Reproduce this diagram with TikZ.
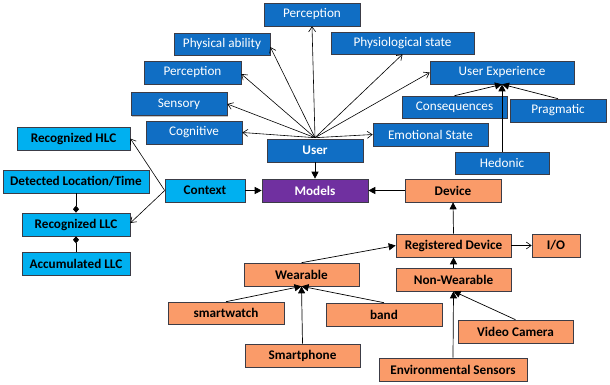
\documentclass[tikz,border=0pt]{standalone}
\usepackage{fontspec}
\setmainfont{Carlito}
\usetikzlibrary{arrows.meta,shadows}
\definecolor{dblue}{RGB}{16,110,196}
\definecolor{lblue}{RGB}{0,176,240}
\definecolor{purp}{RGB}{112,48,160}
\definecolor{orng}{RGB}{250,155,105}
\definecolor{edge}{RGB}{60,60,70}
\newcommand{\bxfont}{\fontsize{13.2}{15}\selectfont}
\begin{document}
\begin{tikzpicture}[x=1pt,y=-1pt,
  box/.style={draw=edge,line width=0.6pt,inner sep=0pt,minimum height=23pt,
    font=\bxfont,
    drop shadow={shadow xshift=1.2pt,shadow yshift=-1.2pt,opacity=0.45}},
  ublue/.style={box,fill=dblue,text=white},
  cblue/.style={box,fill=lblue,text=black,font=\bxfont\bfseries},
  mpurp/.style={box,fill=purp,text=white,font=\bxfont\bfseries},
  dor/.style={box,fill=orng,text=black,font=\bxfont\bfseries},
  open/.style={draw=black,line width=0.6pt,-{Straight Barb[length=5pt,width=7pt]}},
  filled/.style={draw=black,line width=0.7pt,-{Triangle[length=7pt,width=7pt]}},
  dia/.style={draw=black,line width=0.7pt,-{Diamond[length=7pt,width=6pt]}}]
\useasboundingbox (0,0) rectangle (610,385);
\fill[white] (0,0) rectangle (610,385);
% user branch
\node[ublue,minimum width=96pt] (perc1) at (312,14.5) {Perception};
\node[ublue,minimum width=96pt,minimum height=22pt] (phys) at (222,44) {Physical ability};
\node[ublue,minimum width=97pt] (perc2) at (192.5,72.5) {Perception};
\node[ublue,minimum width=96pt] (sens) at (179,104) {Sensory};
\node[ublue,minimum width=96pt] (cogn) at (194,132.5) {Cognitive};
\node[ublue,minimum width=143pt,minimum height=22pt] (physio) at (402.5,43) {Physiological state};
\node[ublue,minimum width=144pt] (ux) at (502,72.5) {User Experience};
\node[ublue,minimum width=105pt,minimum height=22pt] (cons) at (454.5,107) {Consequences};
\node[ublue,minimum width=96pt] (prag) at (558,110.5) {Pragmatic};
\node[ublue,minimum width=115pt] (emo) at (430.5,134.5) {Emotional State};
\node[ublue,minimum width=94pt,minimum height=22pt] (hed) at (502,163) {Hedonic};
\node[ublue,minimum width=96pt,font=\bxfont\bfseries] (user) at (315,150.5) {User};
% context branch
\node[cblue,minimum width=113pt] (hlc) at (73.5,138.5) {Recognized HLC};
\node[cblue,minimum width=146pt] (dlt) at (76,181.5) {Detected Location/Time};
\node[cblue,minimum width=108pt] (llc) at (76,224.5) {Recognized LLC};
\node[cblue,minimum width=108pt] (acc) at (76,263.5) {Accumulated LLC};
\node[cblue,minimum width=80pt] (ctx) at (205,190.5) {Context};
% models
\node[mpurp,minimum width=106pt] (models) at (315,190.5) {Models};
% device branch
\node[dor,minimum width=96pt] (dev) at (453,190.5) {Device};
\node[dor,minimum width=115pt] (reg) at (453.5,245.5) {Registered Device};
\node[dor,minimum width=48pt] (io) at (556,245.5) {I/O};
\node[dor,minimum width=115pt] (nonw) at (453.5,279.5) {Non-Wearable};
\node[dor,minimum width=115pt] (wear) at (301.5,274.5) {Wearable};
\node[dor,minimum width=116pt,minimum height=22pt] (sw) at (226,313) {smartwatch};
\node[dor,minimum width=116pt] (band) at (384,314.5) {band};
\node[dor,minimum width=115pt] (sp) at (302.5,355.5) {Smartphone};
\node[dor,minimum width=115pt] (vid) at (515.5,331.5) {Video Camera};
\node[dor,minimum width=148pt] (env) at (453,369.5) {Environmental Sensors};
% user arrows
\coordinate (uo) at ([yshift=1pt]user.north);
\draw[open] (uo) -- (perc1.south);
\draw[open] (uo) -- ([yshift=-3pt]phys.east);
\draw[open] (uo) -- ([yshift=-1.5pt]perc2.east);
\draw[open] (uo) -- (sens.east);
\draw[open] (uo) -- (cogn.east);
\draw[open] (uo) -- (physio.south);
\draw[open] (uo) -- (ux.west);
\draw[open] (uo) -- (emo.west);
\draw[filled] (cons.north) -- (ux.south);
\draw[filled] (prag.north) -- (ux.south);
\draw[filled] (hed.north) -- (ux.south);
% models arrows
\draw[filled] (user.south) -- (models.north);
\draw[filled] (ctx.east) -- (models.west);
\draw[filled] (dev.west) -- (models.east);
% context
\draw[open] (ctx.west) -- (hlc.east);
\draw[open] (ctx.west) -- ([yshift=1.5pt]llc.east);
\draw[dia] (dlt.south) -- (llc.north);
\draw[dia] (acc.north) -- (llc.south);
% device
\draw[filled] (reg.north) -- (dev.south);
\draw[open] (reg.east) -- (io.west);
\draw[filled] (nonw.north) -- (reg.south);
\draw[filled] (wear.north) -- (reg.west);
\draw[filled] (sw.north) -- (wear.south);
\draw[filled] (band.north) -- (wear.south);
\draw[filled] (sp.north) -- (wear.south);
\draw[filled] (vid.north) -- (nonw.south);
\draw[filled] (env.north) -- (nonw.south);
\end{tikzpicture}
\end{document}
